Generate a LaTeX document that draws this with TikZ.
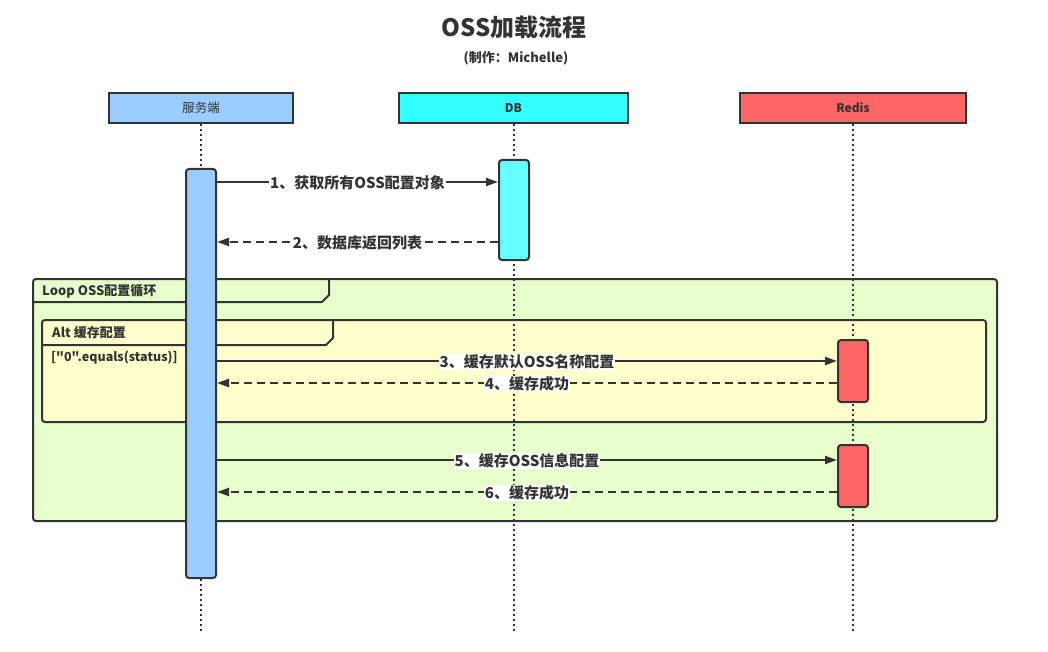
\documentclass[tikz,border=0pt]{standalone}
\usepackage{fontspec}
\setmainfont{Noto Sans CJK SC}
\newfontfamily\plainquote{Noto Sans CJK SC}
\usetikzlibrary{arrows.meta}

\definecolor{edge}{HTML}{333333}
\definecolor{srvblue}{HTML}{99CCFF}
\definecolor{dbcyan}{HTML}{33FFFF}
\definecolor{dbact}{HTML}{66FFFF}
\definecolor{redisred}{HTML}{FF6666}
\definecolor{loopgreen}{HTML}{E6FFCC}
\definecolor{altyellow}{HTML}{FFFFCC}

\tikzset{
  head/.style={draw=edge, line width=2pt, minimum height=30pt, inner sep=0pt,
    text=edge, font=\fontsize{12}{14}\selectfont\bfseries},
  actbox/.style={draw=edge, line width=2pt, rounded corners=3pt, minimum width=30pt, inner sep=0pt},
  life/.style={edge, line width=2pt, dash pattern=on 2pt off 3pt},
  frame/.style={draw=edge, line width=2pt},
  msg/.style={edge, line width=2pt, -{Triangle[length=12pt,width=8pt]}},
  reply/.style={msg, dash pattern=on 8pt off 5pt},
  lbl/.style={fill=white, inner sep=1pt, yshift=-1pt, text=edge, font=\fontsize{15}{17}\selectfont\bfseries},
  framelbl/.style={anchor=west, inner sep=1pt, text=edge, font=\fontsize{13}{15}\selectfont\bfseries}
}

\begin{document}
\begin{tikzpicture}[x=1pt, y=-1pt]
  \useasboundingbox (0,0) rectangle (1048,652);

  % title
  \node[text=edge, font=\fontsize{24}{28}\selectfont\bfseries] (title) at (514,27) {OSS加载流程};
  \node[text=edge, font=\fontsize{13}{15}\selectfont\bfseries] (sub) at (516,58) {(制作：Michelle)};

  % frames
  \draw[frame, fill=loopgreen, rounded corners=3pt] (33,279) rectangle (997,521);
  \draw[frame] (33,302) -- (322,302) -- (329,295) -- (329,279);
  \node[framelbl] (looplbl) at (41,291) {Loop OSS配置循环};

  \draw[frame, fill=altyellow, rounded corners=3pt] (42,320) rectangle (986,422);
  \draw[frame] (42,345) -- (326,345) -- (333,338) -- (333,320);
  \node[framelbl] (altlbl) at (51,333) {Alt 缓存配置};
  \node[framelbl, font=\fontsize{12.5}{14}\plainquote\bfseries] (guard) at (50,358) {["0".equals(status)]};

  % lifelines
  \node[head, fill=srvblue, minimum width=184pt, font=\fontsize{12.5}{14}\selectfont] (srv) at (201,108) {服务端};
  \node[head, fill=dbcyan, minimum width=229pt] (db) at (513.5,108) {DB};
  \node[head, fill=redisred, minimum width=226pt] (redis) at (853,108) {Redis};
  \coordinate (bottom) at (0,632);
  \draw[life] (srv.south) -- (srv.south |- bottom);
  \draw[life] (db.south) -- (db.south |- bottom);
  \draw[life] (redis.south) -- (redis.south |- bottom);

  % activations
  \node[actbox, fill=srvblue, minimum height=409pt] (srvact) at (201,373.5) {};
  \node[actbox, fill=dbact, minimum height=100pt] (dbbar) at (514,210) {};
  \node[actbox, fill=redisred, minimum height=62pt] (redisbar1) at (853,371) {};
  \node[actbox, fill=redisred, minimum height=62pt] (redisbar2) at (853,476) {};

  % messages
  \coordinate (m1) at (0,182);
  \coordinate (m2) at (0,242);
  \coordinate (m3) at (0,361);
  \coordinate (m4) at (0,383);
  \coordinate (m5) at (0,460);
  \coordinate (m6) at (0,492);
  \draw[msg] (srvact.east |- m1) -- node[lbl] {1、获取所有OSS配置对象} (dbbar.west |- m1);
  \draw[reply] (dbbar.west |- m2) -- node[lbl] {2、数据库返回列表} (srvact.east |- m2);
  \draw[msg] (srvact.east |- m3) -- node[lbl] {3、缓存默认OSS名称配置} (redisbar1.west |- m3);
  \draw[reply] (redisbar1.west |- m4) -- node[lbl] {4、缓存成功} (srvact.east |- m4);
  \draw[msg] (srvact.east |- m5) -- node[lbl] {5、缓存OSS信息配置} (redisbar2.west |- m5);
  \draw[reply] (redisbar2.west |- m6) -- node[lbl] {6、缓存成功} (srvact.east |- m6);
\end{tikzpicture}
\end{document}
